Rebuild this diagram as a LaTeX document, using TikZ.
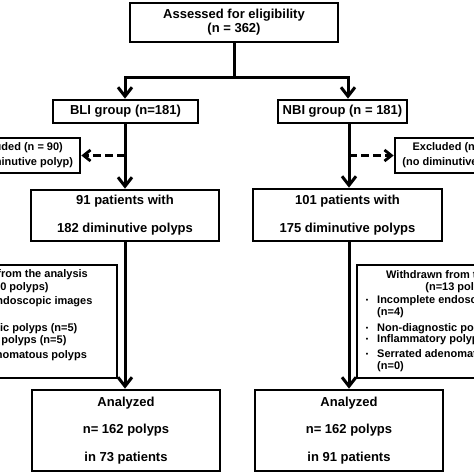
\documentclass[tikz,border=0pt]{standalone}
\usepackage{fontspec}
\setmainfont{Liberation Sans}
\usetikzlibrary{arrows.meta}
\begin{document}
\begin{tikzpicture}[x=1pt,y=-1pt,
  box/.style={draw, line width=2.6pt, inner sep=0pt, align=center, font=\bfseries\fontsize{13}{28}\selectfont},
  sbox/.style={draw, line width=2.6pt, inner sep=0pt},
  txt/.style={inner sep=0pt, font=\bfseries\fontsize{11}{13}\selectfont},
  bul/.style={inner sep=0pt, font=\bfseries\fontsize{7}{7}\selectfont},
  conn/.style={line width=3pt},
  arr/.style={line width=3pt, -{Straight Barb[length=9pt,width=14pt]}},
  darr/.style={line width=2.8pt, dash pattern=on 8pt off 4pt, -{Straight Barb[length=7pt,width=11pt]}}
]
\useasboundingbox (0,0) rectangle (474,474);
\clip (0,0) rectangle (474,474);
\fill[white] (0,0) rectangle (474,474);

% main boxes
\node[box, minimum width=208pt, minimum height=39pt, font=\bfseries\fontsize{13}{14}\selectfont] (top) at (234,22.5) {Assessed for eligibility\\(n = 362)};
\node[box, minimum width=145pt, minimum height=23pt] (bli) at (125.5,111.5) {BLI group (n=181)};
\node[box, minimum width=129pt, minimum height=23pt] (nbi) at (342.5,111.5) {NBI group (n = 181)};
\node[box, minimum width=125pt, minimum height=35pt, font=\bfseries\fontsize{11}{15}\selectfont] (exl) at (17.5,155.5) {Excluded (n = 90)\\(no diminutive polyp)};
\node[box, minimum width=126pt, minimum height=35pt, font=\bfseries\fontsize{11}{15}\selectfont] (exr) at (458,155.5) {Excluded (n = 80)\\(no diminutive polyp)};
\node[box, minimum width=188pt, minimum height=51pt] (p91) at (125,215.5) {91 patients with\\182 diminutive polyps};
\node[box, minimum width=189pt, minimum height=52pt] (p101) at (347.5,215) {101 patients with\\175 diminutive polyps};
\node[sbox, minimum width=208pt, minimum height=113pt] (wl) at (13,321.5) {};
\node[sbox, minimum width=208pt, minimum height=113pt] (wr) at (461,321.5) {};
\node[box, minimum width=188pt, minimum height=81pt, font=\bfseries\fontsize{13}{27.5}\selectfont] (anl) at (126,430.5) {Analyzed\\n= 162 polyps\\in 73 patients};
\node[box, minimum width=188pt, minimum height=81pt, font=\bfseries\fontsize{13}{27.5}\selectfont] (anr) at (349,430.5) {Analyzed\\n= 162 polyps\\in 91 patients};

% withdrawn texts (left)
\node[txt] (wl1) at (13,275) {Withdrawn from the analysis};
\node[txt] (wl2) at (13,288) {(n=20 polyps)};
\node[bul] (bl1) at (-81,302) {•};
\node[txt, anchor=west] (wl3) at (-71,302) {Incomplete endoscopic images};
\node[txt, anchor=west] (wl4) at (-71,314) {(n=10)};
\node[bul] (bl2) at (-81,329) {•};
\node[txt, anchor=west] (wl5) at (-71,329) {Non-diagnostic polyps (n=5)};
\node[bul] (bl3) at (-81,341) {•};
\node[txt, anchor=west] (wl6) at (-71,341) {Inflammatory polyps (n=5)};
\node[bul] (bl4) at (-81,356) {•};
\node[txt, anchor=west] (wl7) at (-71,356) {Serrated adenomatous polyps};
\node[txt, anchor=west] (wl8) at (-71,368) {(n=0)};

% withdrawn texts (right)
\node[txt] (wr1) at (461,276) {Withdrawn from the analysis};
\node[txt] (wr2) at (461,288) {(n=13 polyps)};
\node[bul] (br1) at (367,301) {•};
\node[txt, anchor=west] (wr3) at (377,301) {Incomplete endoscopic images};
\node[txt, anchor=west] (wr4) at (377,313) {(n=4)};
\node[bul] (br2) at (367,329) {•};
\node[txt, anchor=west] (wr5) at (377,329) {Non-diagnostic polyps (n=4)};
\node[bul] (br3) at (367,340) {•};
\node[txt, anchor=west] (wr6) at (377,340) {Inflammatory polyps (n=5)};
\node[bul] (br4) at (367,355) {•};
\node[txt, anchor=west] (wr7) at (377,355) {Serrated adenomatous polyps};
\node[txt, anchor=west] (wr8) at (377,367) {(n=0)};

% connectors
\coordinate (split) at (234,77);
\draw[conn] (top.south) -- (split);
\draw[arr] (split) -| ([xshift=-0.5pt]bli.north);
\draw[arr] (split) -| ([xshift=5.5pt]nbi.north);
\draw[arr] ([xshift=-0.5pt]bli.south) -- (p91.north);
\draw[arr] ([xshift=6.5pt]nbi.south) -- ([xshift=1.5pt]p101.north);
\draw[darr] (125,155.5) -- (exl.east);
\draw[darr] (349,155.5) -- (exr.west);
\draw[arr] (p91.south) -- ([xshift=-1pt]anl.north);
\draw[arr] ([xshift=1.5pt]p101.south) -- (anr.north);
\end{tikzpicture}
\end{document}
